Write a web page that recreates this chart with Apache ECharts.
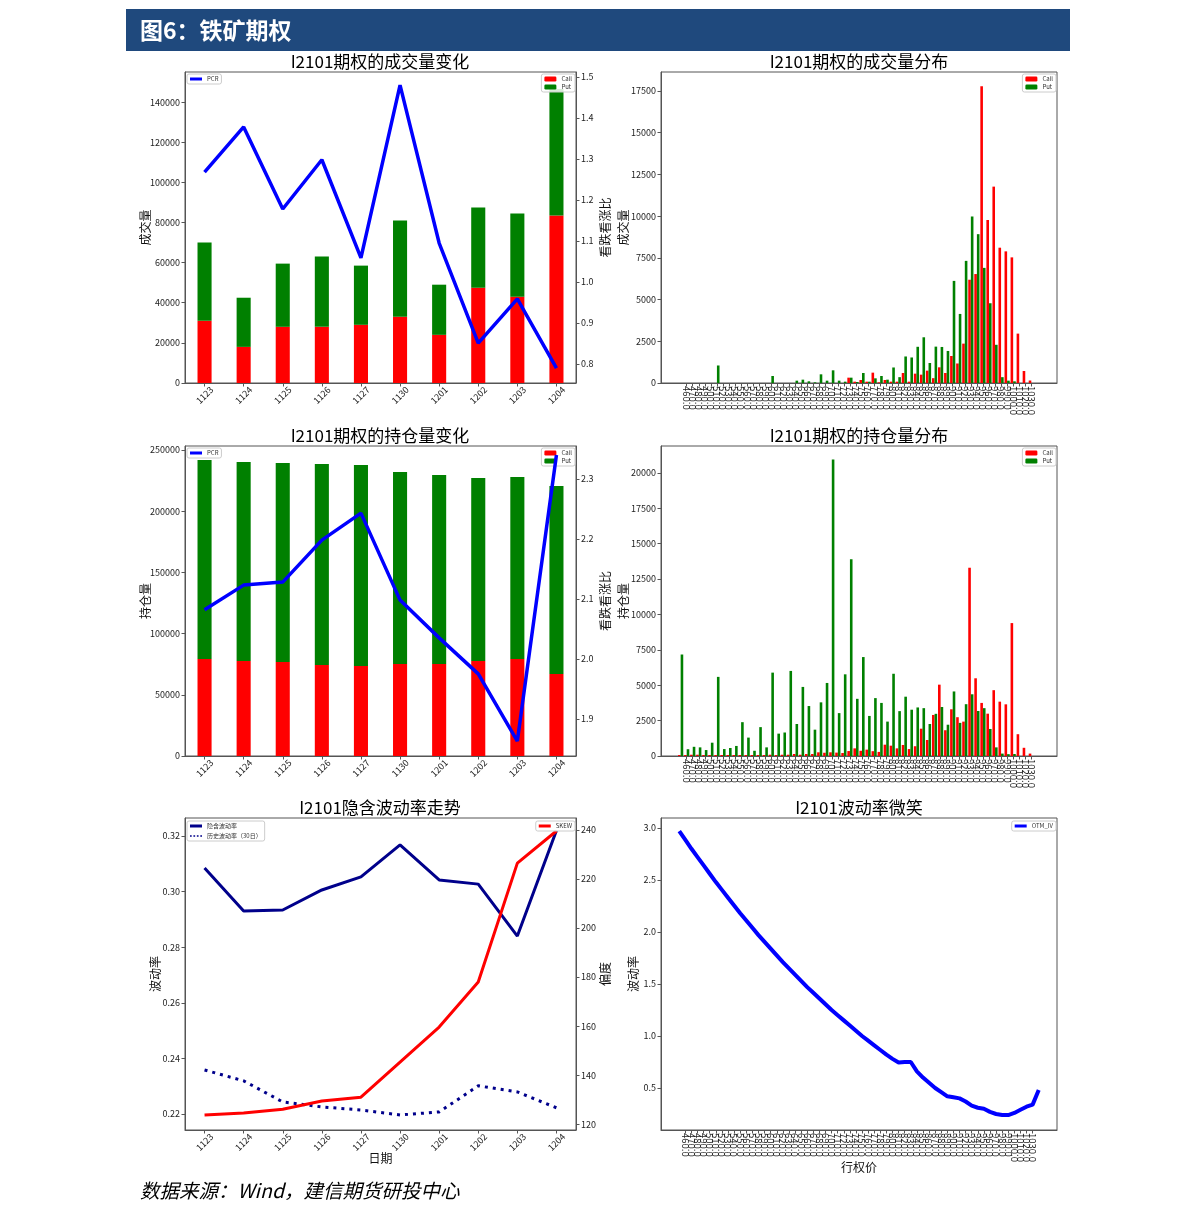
<!DOCTYPE html>
<html><head><meta charset="utf-8">
<script src="https://cdn.jsdelivr.net/npm/echarts@6/dist/echarts.min.js"></script>
<style>html,body{margin:0;padding:0;background:#fff}#c{width:1191px;height:1222px}</style>
</head><body><div id="c"></div>
<script>
// ---------- data ----------
const months = ['1123','1124','1125','1126','1127','1130','1201','1202','1203','1204'];
const volCall = [31000,18000,28000,28000,29000,33000,24000,47500,43000,83500];
const volPut  = [39000,24500,31500,35000,29500,48000,25000,40000,41500,63000];
const volPCR  = [1.268,1.378,1.178,1.298,1.059,1.480,1.095,0.851,0.959,0.790];
const oiCall  = [79250,77600,76800,74350,73500,75200,75200,77600,79250,67000];
const oiPut   = [162550,162600,162600,164250,164200,156800,154400,149500,148650,153600];
const oiPCR   = [2.082,2.123,2.128,2.198,2.243,2.098,2.035,1.975,1.863,2.340];
const ivImplied = [0.3085,0.2930,0.2934,0.3006,0.3053,0.3168,0.3042,0.3027,0.2840,0.3220];
const ivHist    = [0.2358,0.2319,0.2243,0.2225,0.2214,0.2196,0.2207,0.2301,0.2279,0.2222];
const skew      = [123.7,124.5,126.1,129.4,131.0,145.3,159.6,178.0,226.5,239.6];

const strikes = ['450.0','460.0','470.0','480.0','490.0','500.0','510.0','520.0','530.0','540.0',
  '550.0','560.0','570.0','580.0','590.0','600.0','610.0','620.0','630.0','640.0',
  '650.0','660.0','670.0','680.0','690.0','700.0','710.0','720.0','730.0','740.0',
  '750.0','760.0','770.0','780.0','790.0','800.0','810.0','820.0','830.0','840.0',
  '850.0','860.0','870.0','880.0','890.0','900.0','910.0','920.0','930.0','940.0',
  '950.0','960.0','970.0','980.0','990.0','1000.0','1010.0','1020.0','1030.0','1040.0'];

const distVolCall = [0,0,0,0,0,0,0,0,0,0, 0,0,0,0,0,0,0,0,0,0, 0,0,0,0,0,0,0,0,320,80,
  180,80,620,40,180,80,80,600,80,560, 500,740,290,940,600,1620,1170,2360,6190,6530,
  17780,9770,11770,8110,7890,7530,2960,720,150,0];
const distVolPut = [0,0,0,0,0,0,1050,0,0,0, 0,0,0,0,0,420,0,0,0,140, 200,100,40,520,140,760,140,80,320,60,
  600,80,280,420,200,930,350,1590,1530,2170, 2740,1200,2180,2160,1920,6120,4140,7320,9980,8920,
  6900,4780,2290,350,140,100,0,0,0,0];
const distOiCall = [70,70,90,90,70,70,70,70,70,70, 70,70,70,70,70,90,70,90,90,140, 90,140,140,260,230,260,240,210,350,540,
  370,450,340,290,800,730,540,780,490,690, 1930,1130,2900,5040,1820,3300,2740,2430,13300,5490,
  3750,2990,4650,3840,3650,9390,1540,580,170,0];
const distOiPut = [7170,480,650,610,420,940,5590,490,565,710, 2390,1300,370,2040,610,5890,1580,1660,6010,2260,
  4880,3530,1860,3790,5160,20940,3030,5770,13900,4040, 6990,2830,4090,3750,2430,5810,3170,4190,3270,3430,
  3380,2260,2980,3460,2210,4560,2340,3660,4360,3180, 3380,1910,610,170,130,140,0,0,0,0];
const smileIV = [2.97,2.885,2.80,2.72,2.64,2.56,2.48,2.405,2.33,2.255, 2.18,2.11,2.04,1.97,1.905,1.84,1.775,1.71,1.65,1.59,
  1.53,1.47,1.415,1.36,1.305,1.25,1.20,1.15,1.10,1.05, 1.00,0.955,0.91,0.865,0.82,0.78,0.745,0.75,0.75,0.66,
  0.60,0.55,0.50,0.46,0.42,0.41,0.40,0.37,0.33,0.31, 0.30,0.27,0.25,0.24,0.24,0.26,0.29,0.32,0.34,0.48];

// tick labels
const volTicks = [0,20000,40000,60000,80000,100000,120000,140000];
const volPcrTicks = [0.8,0.9,1.0,1.1,1.2,1.3,1.4,1.5];
const oiTicks = [0,50000,100000,150000,200000,250000];
const oiPcrTicks = [1.9,2.0,2.1,2.2,2.3];
const distVolTicks = [0,2500,5000,7500,10000,12500,15000,17500];
const distOiTicks = [0,2500,5000,7500,10000,12500,15000,17500,20000];
const ivTicks = [0.22,0.24,0.26,0.28,0.30,0.32];
const skewTicks = [120,140,160,180,200,220,240];
const smileTicks = [0.5,1.0,1.5,2.0,2.5,3.0];

// ---------- styles ----------
const F = '"Noto Sans CJK SC", sans-serif';
const AX = '#555';
const RED = '#ff0000', GREEN = '#008000', BLUE = '#0000ff', NAVY = '#00008b';
const idx = strikes.map((s, i) => i);
const pairs = arr => arr.map((v, i) => [i, v]);
const DOTS = 'path://M0 0h3v3h-3zM6 0h3v3h-3zM12 0h3v3h-3zM18 0h3v3h-3z';

const G = [
  {left:185, top:72, width:391, height:311},
  {left:661, top:72, width:396, height:311},
  {left:185, top:446, width:391, height:310},
  {left:661, top:446, width:396, height:310},
  {left:185, top:818, width:391, height:312},
  {left:661, top:818, width:396, height:312}
].map(g => Object.assign({show:true, borderColor:AX, borderWidth:1, backgroundColor:'transparent'}, g));

function yAx(gi, pos, min, max, ticks, dec, name, gap) {
  return {
    type:'value', gridIndex:gi, position:pos, min, max,
    axisLine:{show:true, onZero:false, lineStyle:{color:AX}},
    axisTick:{show:true, length:3.5, customValues:ticks, lineStyle:{color:AX}},
    axisLabel:{customValues:ticks, fontSize:9, color:'#222', fontFamily:F, margin:5,
      formatter: v => dec == null ? String(Math.round(v)) : Number(v).toFixed(dec)},
    splitLine:{show:false},
    name, nameLocation:'middle', nameGap:gap, nameRotate:90, nameMoveOverlap:false,
    nameTextStyle:{fontSize:12, fontFamily:F, color:'#111'}
  };
}
function catX(gi, name) {
  return {
    type:'category', gridIndex:gi, data:months, boundaryGap:true,
    axisLine:{show:true, onZero:false, lineStyle:{color:AX}},
    axisTick:{show:true, alignWithLabel:true, length:3.5, lineStyle:{color:AX}},
    axisLabel:{rotate:45, align:'center', verticalAlign:'middle', margin:12, fontSize:9, color:'#222', fontFamily:F, interval:0},
    splitLine:{show:false},
    name: name || '', nameLocation:'middle', nameGap:22, nameMoveOverlap:false,
    nameTextStyle:{fontSize:12, fontFamily:F, color:'#111'}
  };
}
function strikeX(gi, min, max, name) {
  return {
    type:'value', gridIndex:gi, min, max,
    axisLine:{show:true, onZero:false, lineStyle:{color:AX}},
    axisTick:{show:true, length:3.5, customValues:idx, lineStyle:{color:AX}},
    axisLabel:{customValues:idx, rotate:-90, fontSize:9.5, margin:3, color:'#222', fontFamily:F,
      formatter: v => strikes[Math.round(v)] || ''},
    splitLine:{show:false},
    name: name || '', nameLocation:'middle', nameGap:31, nameMoveOverlap:false,
    nameTextStyle:{fontSize:12, fontFamily:F, color:'#111'}
  };
}
const legBase = {
  textStyle:{fontSize:6, color:'#333', fontFamily:F}, itemWidth:12, itemHeight:5, itemGap:2,
  padding:[2,3,2,3], borderColor:'#ccc', borderWidth:1, borderRadius:2,
  backgroundColor:'rgba(255,255,255,0.85)', orient:'vertical', selectedMode:false
};
const leg = o => Object.assign({}, legBase, o);
const lineItem = n => ({name:n, icon:'rect'});
const subTitle = (text, left, top) => ({text, left, top, textAlign:'center', padding:0,
  textStyle:{fontSize:17, fontWeight:'normal', color:'#000', fontFamily:F}});

const option = {
  animation:false,
  backgroundColor:'#fff',
  graphic:[{type:'rect', left:126, top:9, shape:{width:944, height:42}, style:{fill:'#1f497d'}, z:0}],
  title:[
    {text:'图6：铁矿期权', left:140, top:19, padding:0, textStyle:{color:'#fff', fontSize:23, fontWeight:'bold', fontFamily:F}},
    subTitle('I2101期权的成交量变化', 380, 53),
    subTitle('I2101期权的成交量分布', 859, 53),
    subTitle('I2101期权的持仓量变化', 380, 427),
    subTitle('I2101期权的持仓量分布', 859, 427),
    subTitle('I2101隐含波动率走势', 380, 799),
    subTitle('I2101波动率微笑', 859, 799),
    {text:'数据来源：Wind，建信期货研投中心', left:140, top:1181, padding:0,
      textStyle:{fontSize:19.5, fontStyle:'italic', fontWeight:'normal', color:'#000', fontFamily:F}}
  ],
  legend:[
    leg({data:[lineItem('PCR')], left:187, top:74, itemHeight:3}),
    leg({data:['Call','Put'], right:616, top:74}),
    leg({data:['Call','Put'], right:135, top:74}),
    leg({data:[lineItem('PCR')], left:187, top:448, itemHeight:3}),
    leg({data:['Call','Put'], right:616, top:448}),
    leg({data:['Call','Put'], right:135, top:448}),
    leg({data:[lineItem('隐含波动率'), {name:'历史波动率（30日）', icon:DOTS}], left:187, top:821, itemHeight:3, itemGap:4}),
    leg({data:[lineItem('SKEW')], right:616, top:821, itemHeight:3}),
    leg({data:[lineItem('OTM_IV')], right:135, top:821, itemHeight:3})
  ],
  grid:G,
  xAxis:[
    catX(0), strikeX(1, -3.25, 62.25), catX(2), strikeX(3, -3.25, 62.25), catX(4, '日期'), strikeX(5, -3, 62, '行权价')
  ],
  yAxis:[
    yAx(0, 'left', 0, 155000, volTicks, null, '成交量', 34),
    yAx(0, 'right', 0.7537, 1.512, volPcrTicks, 1, '看跌看涨比', 23),
    yAx(1, 'left', 0, 18640, distVolTicks, null, '成交量', 32),
    yAx(2, 'left', 0, 253300, oiTicks, null, '持仓量', 34),
    yAx(2, 'right', 1.838, 2.355, oiPcrTicks, 1, '看跌看涨比', 23),
    yAx(3, 'left', 0, 21900, distOiTicks, null, '持仓量', 32),
    yAx(4, 'left', 0.2142, 0.3265, ivTicks, 2, '波动率', 24),
    yAx(4, 'right', 117.6, 244.9, skewTicks, null, '偏度', 23),
    yAx(5, 'left', 0.096, 3.096, smileTicks, 1, '波动率', 22)
  ],
  series:[
    {type:'bar', name:'Call', xAxisIndex:0, yAxisIndex:0, stack:'v', data:volCall, barWidth:'36%', itemStyle:{color:RED}},
    {type:'bar', name:'Put', xAxisIndex:0, yAxisIndex:0, stack:'v', data:volPut, barWidth:'36%', itemStyle:{color:GREEN}},
    {type:'line', name:'PCR', xAxisIndex:0, yAxisIndex:1, data:volPCR, symbol:'none', lineStyle:{color:BLUE, width:3.5}, itemStyle:{color:BLUE}, z:5},

    {type:'bar', name:'Call', xAxisIndex:1, yAxisIndex:2, data:pairs(distVolCall), barWidth:2.6, barGap:'0%', itemStyle:{color:RED}},
    {type:'bar', name:'Put', xAxisIndex:1, yAxisIndex:2, data:pairs(distVolPut), barWidth:2.6, barGap:'0%', itemStyle:{color:GREEN}},

    {type:'bar', name:'Call', xAxisIndex:2, yAxisIndex:3, stack:'o', data:oiCall, barWidth:'36%', itemStyle:{color:RED}},
    {type:'bar', name:'Put', xAxisIndex:2, yAxisIndex:3, stack:'o', data:oiPut, barWidth:'36%', itemStyle:{color:GREEN}},
    {type:'line', name:'PCR', xAxisIndex:2, yAxisIndex:4, data:oiPCR, symbol:'none', lineStyle:{color:BLUE, width:3.5}, itemStyle:{color:BLUE}, z:5},

    {type:'bar', name:'Call', xAxisIndex:3, yAxisIndex:5, data:pairs(distOiCall), barWidth:2.6, barGap:'0%', itemStyle:{color:RED}},
    {type:'bar', name:'Put', xAxisIndex:3, yAxisIndex:5, data:pairs(distOiPut), barWidth:2.6, barGap:'0%', itemStyle:{color:GREEN}},

    {type:'line', name:'隐含波动率', xAxisIndex:4, yAxisIndex:6, data:ivImplied, symbol:'none', lineStyle:{color:NAVY, width:3}, itemStyle:{color:NAVY}},
    {type:'line', name:'历史波动率（30日）', xAxisIndex:4, yAxisIndex:6, data:ivHist, symbol:'none', lineStyle:{color:NAVY, width:3, type:[3,5]}, itemStyle:{color:NAVY}},
    {type:'line', name:'SKEW', xAxisIndex:4, yAxisIndex:7, data:skew, symbol:'none', lineStyle:{color:RED, width:3}, itemStyle:{color:RED}},

    {type:'line', name:'OTM_IV', xAxisIndex:5, yAxisIndex:8, data:pairs(smileIV), symbol:'none', lineStyle:{color:BLUE, width:4}, itemStyle:{color:BLUE}}
  ]
};
const chart = echarts.init(document.getElementById('c'));
chart.setOption(option);
</script></body></html>
